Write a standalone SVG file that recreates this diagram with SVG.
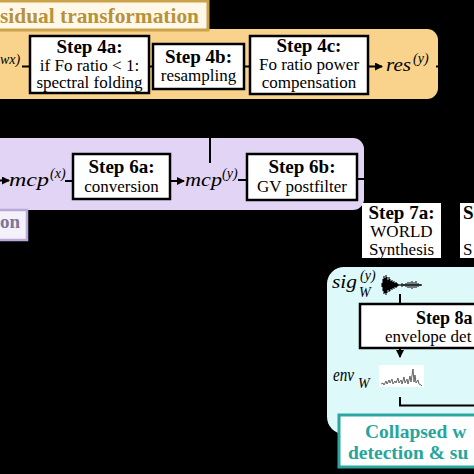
<svg xmlns="http://www.w3.org/2000/svg" width="474" height="474" viewBox="0 0 474 474">
<defs>
<marker id="ah" viewBox="0 0 8 8" refX="7" refY="4" markerWidth="4" markerHeight="4" markerUnits="strokeWidth" orient="auto">
<path d="M0,0 L8,4 L0,8 Z" fill="#000"/>
</marker>
<style>
.box{fill:#fff;stroke:#000;stroke-width:2.5}
.st{font-family:"Liberation Serif",serif;font-weight:bold;font-size:19px;fill:#000;text-anchor:middle}
.tx{font-family:"Liberation Serif",serif;font-size:17px;fill:#000;text-anchor:middle}
.mv{font-family:"Liberation Serif",serif;font-style:italic;font-size:19px;fill:#000}
.sup{font-family:"Liberation Serif",serif;font-style:italic;font-size:14px;fill:#000}
.ln{fill:none;stroke:#000;stroke-width:2}
</style>
</defs>
<rect width="474" height="474" fill="#000"/>

<!-- panels -->
<g id="panel-residual">
<rect x="-20" y="29" width="458" height="70" rx="11" fill="#F9D38C"/>
<rect x="-10" y="1" width="218" height="29" fill="#FFF8E8" stroke="#C9A24A" stroke-width="3"/>
<text x="0" y="23" font-family="Liberation Serif,serif" font-weight="bold" font-size="21" fill="#B8923A" textLength="199" lengthAdjust="spacingAndGlyphs">sidual transformation</text>
</g>
<g id="panel-mcp">
<rect x="-20" y="138" width="384" height="72" rx="11" fill="#E2D4F4"/>
<rect x="-10" y="210" width="37" height="30" fill="#F5F1FA" stroke="#B9A9D6" stroke-width="2.5"/>
<text x="0" y="228" font-family="Liberation Serif,serif" font-weight="bold" font-size="19" fill="#7F7596">on</text>
</g>
<g id="panel-collapse">
<rect x="327" y="267" width="170" height="167" rx="17" fill="#DDF9FA"/>
</g>

<!-- connectors -->
<g id="connectors">
<path class="ln" d="M22,66.5 H31"/>
<path class="ln" d="M149,66.5 H154"/>
<path class="ln" d="M244,66.5 H251"/>
<path class="ln" d="M368,66.5 H382" marker-end="url(#ah)"/>
<path class="ln" d="M436,66.5 H445"/>
<path class="ln" d="M0,180.5 H9" marker-end="url(#ah)"/>
<path class="ln" d="M65,181 H74"/>
<path class="ln" d="M170,181 H184" marker-end="url(#ah)"/>
<path class="ln" d="M238,180 H248"/>
<path class="ln" d="M210,100 V163"/>
<path class="ln" d="M357,179 H372"/>
<path class="ln" d="M400,258 V266" marker-end="url(#ah)"/>
<path class="ln" d="M400,294 V304"/>
<path class="ln" d="M400,348 V357" marker-end="url(#ah)"/>
<path class="ln" d="M400,397 V405.5 H476"/>
</g>

<!-- residual nodes -->
<g id="res-wx">
<text class="sup" x="0" y="64">wx)</text>
</g>
<g id="step4a">
<rect class="box" x="30" y="36" width="119" height="57"/>
<text class="st" x="89.5" y="53">Step 4a:</text>
<text class="tx" x="89.5" y="70.5" font-size="16.5">if Fo ratio &lt; 1:</text>
<text class="tx" x="89.5" y="88" font-size="16.5">spectral folding</text>
</g>
<g id="step4b">
<rect class="box" x="153" y="44" width="91" height="45"/>
<text class="st" x="198.5" y="63">Step 4b:</text>
<text class="tx" x="198.5" y="81">resampling</text>
</g>
<g id="step4c">
<rect class="box" x="250" y="36" width="118" height="58"/>
<text class="st" x="309" y="52">Step 4c:</text>
<text class="tx" x="309" y="70">Fo ratio power</text>
<text class="tx" x="309" y="88">compensation</text>
</g>
<g id="res-y">
<text class="mv" x="386" y="71" textLength="25" lengthAdjust="spacingAndGlyphs">res</text>
<text class="sup" x="413" y="63">(y)</text>
</g>

<!-- mcp nodes -->
<g id="mcp-x">
<text class="mv" x="9" y="186" textLength="40" lengthAdjust="spacingAndGlyphs">mcp</text>
<text class="sup" x="50" y="178">(x)</text>
</g>
<g id="step6a">
<rect class="box" x="73" y="154" width="97" height="45"/>
<text class="st" x="121.5" y="173">Step 6a:</text>
<text class="tx" x="121.5" y="192">conversion</text>
</g>
<g id="mcp-y">
<text class="mv" x="185" y="186" textLength="37" lengthAdjust="spacingAndGlyphs">mcp</text>
<text class="sup" x="222" y="178">(y)</text>
</g>
<g id="step6b">
<rect class="box" x="247" y="154" width="110" height="46"/>
<text class="st" x="302" y="173">Step 6b:</text>
<text class="tx" x="302" y="192">GV postfilter</text>
</g>

<!-- synthesis -->
<g id="step7a">
<rect x="362" y="203" width="79" height="55" fill="#fff"/>
<text class="st" x="401.5" y="219">Step 7a:</text>
<text class="tx" x="401.5" y="237">WORLD</text>
<text class="tx" x="401.5" y="255">Synthesis</text>
</g>
<g id="step7b">
<rect x="460" y="203" width="30" height="55" fill="#fff"/>
<text x="463" y="219" font-family="Liberation Serif,serif" font-weight="bold" font-size="19">S</text>
<text x="463" y="255" font-family="Liberation Serif,serif" font-size="17">S</text>
</g>

<!-- collapsed -->
<g id="sig-w">
<text class="mv" x="332" y="288" textLength="25" lengthAdjust="spacingAndGlyphs">sig</text>
<text class="sup" x="359" y="297">W</text>
<text class="sup" x="360" y="280">(y)</text>
<path d="M382,283v4M383,279v12M384,276v18M385,278v15M386,275v20M387,277v16M388,280v10M389,277v15M390,279v12M391,281v8M392,280v10M393,282v6M394,281v8M395,283v4M396,282v6M397,283v4M398,284v2" stroke="#000" stroke-width="1.1"/>
<path d="M396,285 H422" stroke="#000" stroke-width="1.2"/>
<path d="M402,283v4M404,284v2M406,283v4M408,282v6M410,282v6M412,281v8M414,282v6M416,281v7M418,283v4M420,284v2" stroke="#000" stroke-width="1"/>
</g>
<g id="step8a">
<rect class="box" x="360" y="304" width="130" height="44"/>
<text x="416" y="324" font-family="Liberation Serif,serif" font-weight="bold" font-size="18">Step 8a</text>
<text x="385" y="342" font-family="Liberation Serif,serif" font-size="17">envelope det</text>
</g>
<g id="env-w">
<text class="mv" x="333" y="381" textLength="21" lengthAdjust="spacingAndGlyphs">env</text>
<text class="sup" x="358" y="388">W</text>
<rect x="379" y="365" width="45" height="22" fill="#fff"/>
<path d="M381,384 L383,383 L384,385 L386,381 L387,384 L389,380 L390,383 L392,379 L393,384 L395,381 L396,383 L398,378 L399,383 L401,380 L402,384 L404,377 L405,383 L407,379 L408,384 L410,376 L411,382 L413,369 L414,382 L415,375 L416,383 L418,380 L419,384 L421,385 L422,386" fill="none" stroke="#555" stroke-width="0.9"/>
</g>
<g id="collapsed-label">
<rect x="339" y="415" width="150" height="52" fill="#fff" stroke="#2BA79F" stroke-width="3"/>
<text x="365" y="438" font-family="Liberation Serif,serif" font-weight="bold" font-size="19.5" fill="#27A59C">Collapsed w</text>
<text x="348" y="459" font-family="Liberation Serif,serif" font-weight="bold" font-size="19.5" fill="#27A59C">detection &amp; su</text>
</g>
</svg>
